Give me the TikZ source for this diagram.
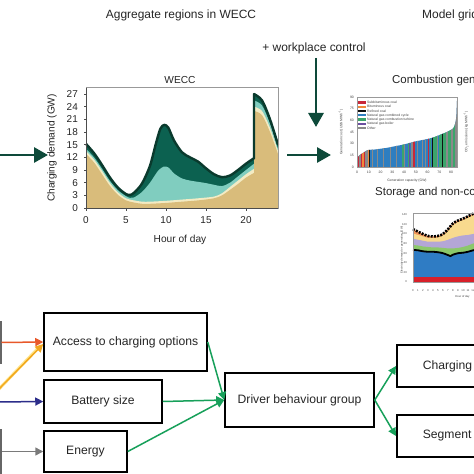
\documentclass[tikz,border=0pt]{standalone}
\usepackage{fontspec}
\setmainfont{Liberation Sans}
\usetikzlibrary{arrows.meta,calc}
\definecolor{dkgreen}{HTML}{0E4A3A}
\definecolor{wtan}{HTML}{D9BC7B}
\definecolor{wcream}{HTML}{F3EBC4}
\definecolor{wteal}{HTML}{80CDBF}
\definecolor{wdark}{HTML}{0C6150}
\definecolor{wline}{HTML}{0A3A2D}
\definecolor{fgreen}{HTML}{17A05A}
\definecolor{forange}{HTML}{E8582A}
\definecolor{fyellow}{HTML}{F2A81E}
\definecolor{fglow}{HTML}{FFE68A}
\definecolor{fnavy}{HTML}{2C2D8A}
\definecolor{fgrey}{HTML}{7A7A7A}
\definecolor{ccred}{HTML}{C8283A}
\definecolor{ccorange}{HTML}{F0883A}
\definecolor{ccblack}{HTML}{111111}
\definecolor{ccblue}{HTML}{2E7EC0}
\definecolor{ccgreen}{HTML}{3BA56B}
\definecolor{ccpurple}{HTML}{6A4FA0}
\definecolor{ccgrey}{HTML}{8A8A8A}
\definecolor{sred}{HTML}{D8202A}
\definecolor{sblue}{HTML}{2F7CC4}
\definecolor{sgreen}{HTML}{8CC86A}
\definecolor{spurple}{HTML}{B4A6D6}
\definecolor{syellow}{HTML}{F8DA8E}
\definecolor{speach}{HTML}{F2955A}
\begin{document}
\begin{tikzpicture}[x=1bp,y=-1bp,
  title/.style={font=\fontsize{12}{14}\selectfont, text=black!85, inner sep=0},
  subtitle/.style={font=\fontsize{11.5}{14}\selectfont, text=black!85, inner sep=0},
  axlab/.style={font=\fontsize{10.2}{12}\selectfont, text=black!85, inner sep=0},
  ticklab/.style={font=\fontsize{10}{12}\selectfont, text=black!85, inner sep=0},
  tiny/.style={font=\fontsize{3.4}{4}\selectfont, text=black!75, inner sep=0},
  flowbox/.style={draw=black, line width=1.5bp, font=\fontsize{12.2}{14}\selectfont, inner sep=0, text=black!85},
  sidebox/.style={draw=black!60, line width=2.5bp, inner sep=0},
  bigarrow/.style={draw=dkgreen, line width=2.8bp, -{Triangle[length=14bp,width=15bp]}},
  flowarrow/.style={line width=1.5bp, -{Triangle[length=8bp,width=8bp]}}]
\useasboundingbox (0,0) rectangle (474,474);
\fill[white] (0,0) rectangle (474,474);

% ---------- titles ----------
\node[title] (t1) at (181,15) {Aggregate regions in WECC};
\node[title, anchor=west] (t2) at (422,15) {Model grid};
\node[title] (t3) at (314,48) {+ workplace control};
\node[subtitle, anchor=west] (t4) at (392,81) {Combustion generation};
\node[subtitle, anchor=west] (t5) at (375,193) {Storage and non-combustion};

% ---------- big arrows ----------
\coordinate (inL) at (0,155);
\coordinate (inR) at (48,155);
\coordinate (midL) at (287,155);
\coordinate (midR) at (331,155);
\coordinate (downE) at (316,127);
\draw[bigarrow] (inL) -- (inR);
\draw[bigarrow] (midL) -- (midR);
\draw[bigarrow] (t3.south -| downE) ++(0,4) -- (downE);

% ---------- WECC chart ----------
\node[axlab] (wt) at (180,80) {WECC};
\node[axlab, rotate=90] (wy) at (52,148) {Charging demand (GW)};
\node[axlab] (wx) at (180,240) {Hour of day};
\begin{scope}[shift={(86,208)}, xscale=8, yscale=-4.22]
  \def\Aenv{(0,15.2)(1,13)(2,10.2)(3,7.2)(4,4.8)(5,3.3)(5.5,3.1)(6,3.6)(7,5.8)(8,10)(8.7,15)(9.3,18.8)(9.8,19.7)(10.3,19)(11,16)(12,13.2)(13,12)(14,11)(15,9.4)(16,8)(17,7.3)(18,7.7)(19,9)(20,10.5)(21,11.8)}
  \def\Benv{(21,27)(22,25.5)(23,21)(24,15)}
  \fill[wdark] (0,0) -- plot[smooth] coordinates {\Aenv} -- plot[smooth] coordinates {\Benv} -- (24,0) -- cycle;
  \fill[wteal] (0,0) -- plot[smooth] coordinates {(0,14)(1,12)(2,9.3)(3,6.4)(4,4.2)(5,2.8)(5.5,2.4)(6,2.5)(7,3.8)(8,6)(9,8.8)(9.7,9.8)(10.3,9.6)(11,8.2)(12,7)(13,6.5)(14,6.2)(15,5.9)(16,5.5)(17,5.2)(18,6)(19,7.5)(20,9)(21,10.5)} -- plot[smooth] coordinates {(21,25.5)(22,24.3)(23,20)(24,14)} -- (24,0) -- cycle;
  \fill[wcream] (0,0) -- plot[smooth] coordinates {(0,13.5)(1,11.5)(2,8.8)(3,5.9)(4,3.7)(5,2.3)(6,1.8)(7,1.5)(8,1.5)(10,1.7)(12,2)(14,2.3)(16,2.7)(17,3.5)(18,5)(19,6.5)(20,8)(21,9.3)} -- plot[smooth] coordinates {(21,24)(22,23)(23,19)(24,13.5)} -- (24,0) -- cycle;
  \fill[wtan] (0,0) -- plot[smooth] coordinates {(0,12.8)(1,10.8)(2,8)(3,5.2)(4,3.1)(5,1.8)(6,1.3)(7,1)(8,1)(10,1.2)(12,1.5)(14,1.8)(16,2.3)(17,3)(18,4.3)(19,5.7)(20,7.2)(21,8.3)} -- plot[smooth] coordinates {(21,23)(22,22)(23,18)(24,12.8)} -- (24,0) -- cycle;
  \draw[wline, line width=2.4bp, line join=round] plot[smooth] coordinates {\Aenv} -- plot[smooth] coordinates {\Benv};
  \draw[black!40, line width=0.6bp] (0,0) rectangle (24,28.5);
  \draw[black!70, line width=0.8bp] (0,28.5) -- (0,0) -- (24,0);
  \foreach \v in {0,3,...,27} {
    \draw[black!70, line width=0.6bp] (0,\v) -- (-0.3,\v);
    \node[ticklab, anchor=east] at (-1,\v) {\v};
  }
  \foreach \h in {0,5,10,15,20} {
    \draw[black!70, line width=0.6bp] (\h,0) -- (\h,-0.6);
    \node[ticklab] at (\h,-2.9) {\h};
  }
\end{scope}

% ---------- combustion chart ----------
\node[tiny, rotate=90] (cy) at (341,132) {Generation cost (US\$ MWh\textsuperscript{−1})};
\node[tiny, rotate=90] (cy2) at (466,132) {CO\textsubscript{2} emissions (kg MWh\textsuperscript{−1})};
\node[tiny] (cx) at (407,181) {Generation capacity (GW)};
\begin{scope}[shift={(357,167)}, xscale=1.176, yscale=-0.778]
  \def\Ccurve{(0,10)(1,13)(2,15)(4,17)(6,19)(8,21)(10,22)(15,22.5)(20,23.5)(25,24.5)(30,26)(35,27.5)(40,29)(45,31)(50,33)(55,34.5)(60,36)(65,38)(70,41)(75,44)(79,47)(82,50)(83.5,56)(84.5,65)(85,85)}
  \begin{scope}
    \clip (0,0) -- plot[smooth] coordinates {\Ccurve} -- (85,0) -- cycle;
    \fill[ccblue] (0,0) rectangle (86,90);
    \foreach \a/\b/\c in {0/1.5/ccred, 1.5/3/ccgrey, 3/4.5/ccred, 4.5/6/ccorange, 6/7/ccred, 7/9/ccgrey, 9.5/10.5/ccorange, 10.5/11/ccblack, 13/14/ccgrey, 17/18/ccgrey, 22/22.6/ccgrey, 28/29/ccgrey, 33/34/ccgrey, 38/40/ccgreen, 40/41/ccgrey, 43/44/ccgreen, 44/45/ccpurple, 46/47.5/ccgrey, 47.5/49.5/ccred, 51/52/ccgrey, 55/56/ccgrey, 58/59/ccgrey, 60/61/ccred, 62/63/ccgreen, 64/64.8/ccblack, 65/68/ccgreen, 68/69/ccgrey, 70/72/ccgreen, 72/72.6/ccblack, 73/76/ccgreen, 76/77/ccgrey, 77/80/ccgreen, 80/82/ccgrey, 82/83.5/ccgreen, 83.5/86/ccgrey}
      \fill[\c] (\a,0) rectangle (\b,90);
  \end{scope}
  \draw[black!40, line width=0.4bp] (0,0) rectangle (85,90);
  \foreach \v in {0,15,...,90} \node[tiny, anchor=east] at (-2.5,\v) {\v};
  \foreach \h in {0,10,...,80} \node[tiny] at (\h,-7) {\h};
  \foreach \c/\t [count=\i from 0] in {ccred/Subbituminous coal, ccorange/Bituminous coal, ccblack/Refined coal, ccblue/Natural gas combined cycle, ccgreen/Natural gas combustion turbine, ccpurple/Natural gas boiler, ccgrey/Other} {
    \fill[\c] (1,84.5-5.5*\i) rectangle (7.5,81.5-5.5*\i);
    \node[tiny, anchor=west] at (8.5,83-5.5*\i) {\t};
  }
\end{scope}

% ---------- storage chart ----------
\node[tiny, rotate=90, font=\fontsize{2.8}{3}\selectfont] (sy) at (402,250) {Electricity demand or generation (GW)};
\node[tiny, font=\fontsize{2.8}{3}\selectfont, anchor=west] (sx) at (455,297) {Hour of day};
\begin{scope}[shift={(413,282)}, xscale=5, yscale=-0.48]
  \def\Stot{(0,110)(1,105)(2,100)(3,96)(4,95)(5,96)(6,100)(7,110)(8,122)(9,128)(10,132)(11,137)(12,142)(13,146)(14,148)}
  \fill[speach] (0,0) -- plot[smooth] coordinates {\Stot} -- (14,0) -- cycle;
  \fill[syellow] (0,0) -- plot[smooth] coordinates {(0,101)(1,98)(2,95)(3,92)(4,92)(5,93)(6,97)(7,107)(8,119)(9,125)(10,129)(11,134)(12,139)(13,143)(14,145)} -- (14,0) -- cycle;
  \fill[spurple] (0,0) -- plot[smooth] coordinates {(0,90)(1,88)(2,86)(3,84)(4,84)(5,84)(6,85)(7,88)(8,92)(9,95)(10,97)(11,98)(12,100)(13,101)(14,102)} -- (14,0) -- cycle;
  \fill[sgreen] (0,0) -- plot[smooth] coordinates {(0,77)(1,76)(2,74)(3,73)(4,72)(5,72)(6,71)(7,70)(8,70)(9,71)(10,73)(11,76)(12,80)(13,82)(14,84)} -- (14,0) -- cycle;
  \def\Sblue{(0,67)(1,66)(2,64)(3,63)(4,63)(5,62)(6,60)(7,56)(7.5,54)(8,57)(9,60)(10,61)(11,63)(12,66)(13,68)(14,70)}
  \fill[sblue] (0,0) -- plot[smooth] coordinates {\Sblue} -- (14,0) -- cycle;
  \fill[sred] (0,0) rectangle (14,10);
  \draw[black, line width=1.8bp] plot[smooth] coordinates {\Sblue};
  \draw[black, line width=2.6bp, dash pattern=on 2bp off 1.2bp] plot[smooth] coordinates {\Stot};
  \draw[black!40, line width=0.4bp] (14,144) -- (0,144) -- (0,0) -- (14,0);
  \foreach \v in {0,20,...,140} \node[tiny, font=\fontsize{2.8}{3}\selectfont, anchor=east] at (-1.2,\v) {\v};
  \foreach \h in {0,...,12} \node[tiny, font=\fontsize{2.8}{3}\selectfont] at (\h,-17) {\h};
\end{scope}

% ---------- flowchart ----------
\node[sidebox, anchor=east, minimum width=80bp, minimum height=41bp] (l1) at (1.5,342.5) {};
\node[sidebox, anchor=east, minimum width=80bp, minimum height=50bp] (l2) at (1.5,455) {};
\node[flowbox, minimum width=163bp, minimum height=58bp] (acc) at (125.5,342) {Access to charging options};
\node[flowbox, minimum width=118bp, minimum height=43bp] (bat) at (103,401.5) {Battery size};
\node[flowbox, minimum width=83bp, minimum height=41bp] (en) at (85.5,451.5) {Energy};
\node[flowbox, minimum width=149bp, minimum height=54bp] (drv) at (299.5,400) {Driver behaviour group};
\node[flowbox, anchor=west, minimum width=170bp, minimum height=42bp, text width=118bp, align=left] (chg) at (396,366) {Charging};
\node[flowbox, anchor=west, minimum width=170bp, minimum height=42bp, text width=118bp, align=left] (seg) at (396,436) {Segment};

\coordinate (ysrc) at (-2,390);
\coordinate (nsrc) at (-2,402);
\draw[flowarrow, forange] (l1.east) -- (acc.west);
\draw[line width=3bp, fglow, line cap=round] (ysrc) -- ($(acc.west)+(-4,5)$);
\draw[flowarrow, fyellow] (ysrc) -- ($(acc.west)+(0,2)$);
\draw[flowarrow, fnavy] (nsrc) -- (bat.west);
\draw[flowarrow, fgrey] (l2.east |- en.west) -- (en.west);
\draw[flowarrow, fgreen] (acc.east) -- (drv.west);
\draw[flowarrow, fgreen] (bat.east) -- (drv.west);
\draw[flowarrow, fgreen] (en.east) -- (drv.west);
\draw[flowarrow, fgreen] (drv.east) -- (chg.west);
\draw[flowarrow, fgreen] (drv.east) -- (seg.west);
\end{tikzpicture}
\end{document}
